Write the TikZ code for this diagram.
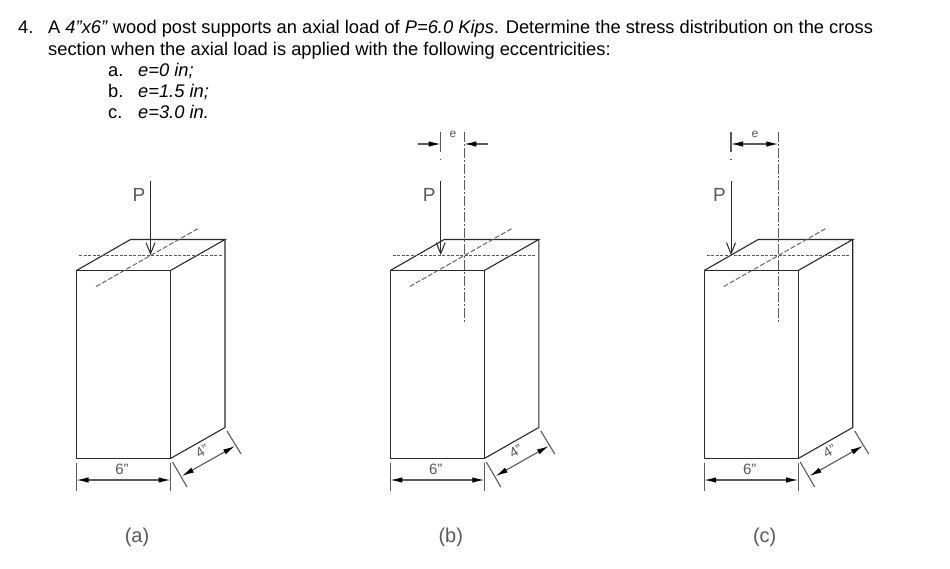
\documentclass[tikz,border=0pt]{standalone}
\usepackage{fontspec}
\setmainfont{Liberation Sans}
\usetikzlibrary{arrows.meta}
\definecolor{inkline}{HTML}{2a2a2a}
\definecolor{dimline}{HTML}{5a5a5a}
\newcommand{\postfig}[4]{% #1 prefix, #2 x shift, #3 load x offset, #4 label
\begin{scope}[xshift=#2]
  \coordinate (#1fl) at (76.5,458.5); \coordinate (#1fr) at (170.5,458.5);
  \coordinate (#1tl) at (76.5,270.5); \coordinate (#1tr) at (170.5,270.5);
  \coordinate (#1bl) at (130.5,239.5); \coordinate (#1br) at (225,239.5);
  \coordinate (#1rb) at (225,427.5);
  \coordinate (#1h1) at (79,255.3); \coordinate (#1h2) at (222,255.3);
  \coordinate (#1d1) at (96,286.5); \coordinate (#1d2) at (199,228);
  \coordinate (#1p1) at (150.5+#3,181); \coordinate (#1p2) at (150.5+#3,255);
  \draw[postline] (#1tl) -- (#1fl) -- (#1fr) -- (#1tr) -- cycle;
  \draw[postline] (#1tl) -- (#1bl) -- (#1br) -- (#1tr);
  \draw[postline] (#1br) -- (#1rb) -- (#1fr);
  \draw[hiddenline] (#1h1) -- (#1h2);
  \draw[diagline] (#1d1) -- (#1d2);
  \draw[loadline] (#1p1) -- (#1p2);
  \node[cadtext,font=\fontsize{19}{19}\selectfont] (#1P) at (139+#3,195) {P};
  % 6 inch dimension
  \coordinate (#1e1a) at (76.5,463); \coordinate (#1e1b) at (76.5,491);
  \coordinate (#1e2a) at (170.5,463); \coordinate (#1e2b) at (170.5,491);
  \coordinate (#1da) at (76.5,480); \coordinate (#1db) at (170.5,480);
  \draw[extline] (#1e1a) -- (#1e1b);
  \draw[extline] (#1e2a) -- (#1e2b);
  \draw[dimarrow] (#1da) -- (#1db);
  \node[cadtext,font=\fontsize{15}{15}\selectfont] (#1six) at (122,469) {6"};
  % 4 inch dimension
  \coordinate (#1g1a) at (172.5,462); \coordinate (#1g1b) at (187,487);
  \coordinate (#1g2a) at (227,431); \coordinate (#1g2b) at (241,454);
  \coordinate (#1ga) at (182,476); \coordinate (#1gb) at (235,446);
  \draw[extline] (#1g1a) -- (#1g1b);
  \draw[extline] (#1g2a) -- (#1g2b);
  \draw[dimarrow] (#1ga) -- (#1gb);
  \node[cadtext,font=\fontsize{14}{14}\selectfont,rotate=30] (#1four) at (202,451) {4"};
  \node[cadtext,font=\fontsize{20}{20}\selectfont] (#1cap) at (137,537) {#4};
\end{scope}}
\tikzset{
  x=1pt,y=-1pt,
  postline/.style={draw=inkline,line width=1.1pt},
  hiddenline/.style={draw=dimline,line width=1.1pt,dash pattern=on 3pt off 1.5pt},
  diagline/.style={draw=dimline,line width=0.9pt,dash pattern=on 5pt off 2pt},
  loadline/.style={draw=inkline,line width=1pt,-{Straight Barb[length=11pt,width=9pt]}},
  extline/.style={draw=dimline,line width=1.1pt},
  dimarrow/.style={draw=dimline,line width=1.1pt,{Latex[length=12pt,width=5.5pt,black]}-{Latex[length=12pt,width=5.5pt,black]}},
  centerline/.style={draw=dimline,line width=1.1pt,dash pattern=on 10pt off 2pt on 2pt off 2pt},
  cadtext/.style={text=dimline,inner sep=0pt},
  bodytext/.style={anchor=base west,inner sep=0pt,font=\fontsize{18.3}{18.3}\selectfont,text=black},
}
\begin{document}
\begin{tikzpicture}
\useasboundingbox[fill=white] (0,0) rectangle (950,568);
\node[bodytext] (n4) at (18,33) {4.};
\node[bodytext] (l1) at (48,33) {A \textit{4”x6”} wood post supports an axial load of \textit{P=6.0 Kips}. Determine the stress distribution on the cross};
\node[bodytext] (l2) at (48,55) {section when the axial load is applied with the following eccentricities:};
\node[bodytext] (ma) at (108,76) {a.};
\node[bodytext] (ta) at (138,76) {\textit{e=0 in;}};
\node[bodytext] (mb) at (108,97) {b.};
\node[bodytext] (tb) at (138,97) {\textit{e=1.5 in;}};
\node[bodytext] (mc) at (108,118) {c.};
\node[bodytext] (tc) at (138,118) {\textit{e=3.0 in.}};

\postfig{a}{0pt}{0}{(a)}
\postfig{b}{313.8pt}{-23.6}{(b)}
\postfig{c}{627.7pt}{-47.2}{(c)}

% eccentricity dimension, (b)
\coordinate (bc1) at (464.3,132); \coordinate (bc2) at (464.3,323);
\coordinate (be1) at (440.7,132); \coordinate (be2) at (440.7,152);
\coordinate (bd1) at (440.7,159); \coordinate (bd2) at (440.7,160);
\coordinate (bl1) at (418,144); \coordinate (bl2) at (440.7,144);
\coordinate (br1) at (488,144); \coordinate (br2) at (464.3,144);
\draw[centerline] (bc1) -- (bc2);
\draw[extline] (be1) -- (be2);
\draw[extline] (bd1) -- (bd2);
\draw[extline,-{Latex[length=12pt,width=5.5pt,black]}] (bl1) -- (bl2);
\draw[extline,-{Latex[length=12pt,width=5.5pt,black]}] (br1) -- (br2);
\node[cadtext,font=\fontsize{12}{12}\selectfont] (be) at (453,134) {e};

% eccentricity dimension, (c)
\coordinate (cc1) at (778.3,132); \coordinate (cc2) at (778.3,323);
\coordinate (ce1) at (731,132); \coordinate (ce2) at (731,152);
\coordinate (cd1) at (731,159); \coordinate (cd2) at (731,160);
\coordinate (cl1) at (731,144); \coordinate (cl2) at (778.3,144);
\draw[centerline] (cc1) -- (cc2);
\draw[extline] (ce1) -- (ce2);
\draw[extline] (cd1) -- (cd2);
\draw[dimarrow] (cl1) -- (cl2);
\node[cadtext,font=\fontsize{12}{12}\selectfont] (ce) at (755,134) {e};
\end{tikzpicture}
\end{document}
